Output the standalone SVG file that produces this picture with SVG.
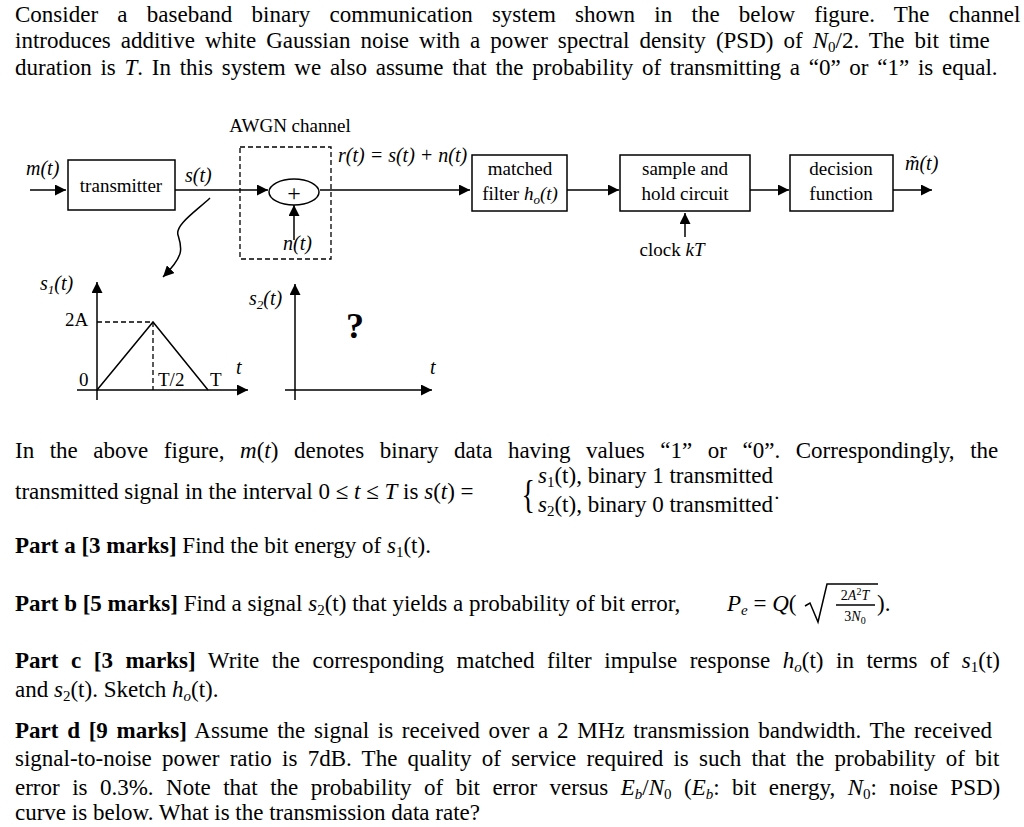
<svg xmlns="http://www.w3.org/2000/svg" width="1024" height="827" viewBox="0 0 1024 827">
<style>
text{font-family:"Liberation Serif","Times New Roman",serif;fill:#000}
.p{font-size:23px}
.d{font-size:19px}
.m{font-size:20px;font-style:italic}
.i{font-style:italic}
.b{font-weight:bold}
.box{fill:#fff;stroke:#000;stroke-width:1.5}
.ln{stroke:#000;stroke-width:1.5;fill:none}
.da{stroke:#000;stroke-width:1.3;fill:none;stroke-dasharray:5,3}
</style>
<defs>
<marker id="ar" viewBox="0 0 10 10" refX="10" refY="5" markerWidth="11" markerHeight="11" markerUnits="userSpaceOnUse" orient="auto"><path d="M0,0L10,5L0,10z" fill="#000"/></marker>
</defs>
<rect width="1024" height="827" fill="#fff"/>
<text class="p" x="15" y="22" word-spacing="13.5">Consider a baseband binary communication system shown in the below figure. The channel</text>
<text class="p" x="15" y="48" word-spacing="4.3">introduces additive white Gaussian noise with a power spectral density (PSD) of <tspan class="i">N</tspan><tspan font-size="15" dy="4">0</tspan><tspan dy="-4">/2. The bit time</tspan></text>
<text class="p" x="15" y="75" word-spacing="3">duration is <tspan class="i">T</tspan>. In this system we also assume that the probability of transmitting a “0” or “1” is equal.</text>

<g id="connectors">
<line class="ln" x1="30" y1="190" x2="66" y2="190" marker-end="url(#ar)"/>
<line class="ln" x1="175" y1="190" x2="268" y2="190" marker-end="url(#ar)"/>
<line class="ln" x1="320" y1="190" x2="470" y2="190" marker-end="url(#ar)"/>
<line class="ln" x1="294" y1="240" x2="294" y2="205" marker-end="url(#ar)"/>
<line class="ln" x1="567" y1="190" x2="619" y2="190" marker-end="url(#ar)"/>
<line class="ln" x1="750" y1="190" x2="789" y2="190" marker-end="url(#ar)"/>
<line class="ln" x1="893" y1="190" x2="932" y2="190" marker-end="url(#ar)"/>
<line class="ln" x1="685" y1="237" x2="685" y2="213" marker-end="url(#ar)"/>
<path class="ln" d="M210,198 C195,212 175,225 178,235 C182,248 185,255 163,277" marker-end="url(#ar)"/>
</g>

<g id="transmitter"><rect class="box" x="68" y="160" width="107" height="50"/><text class="d" x="121" y="192" text-anchor="middle">transmitter</text></g>
<text class="m" x="26" y="175">m(t)</text>
<text class="m" x="185" y="182">s(t)</text>
<g id="awgn">
<text class="d" x="290" y="132" text-anchor="middle">AWGN channel</text>
<rect class="da" x="240" y="147" width="91" height="112"/>
<ellipse cx="294" cy="192" rx="25" ry="13" fill="#fff" stroke="#000" stroke-width="1.5"/>
<text x="294" y="201" font-size="24" text-anchor="middle">+</text>
<text class="m" x="283" y="250">n(t)</text>
</g>
<text class="m" x="338" y="162">r(t) = s(t) + n(t)</text>
<g id="matched"><rect class="box" x="472" y="155" width="95" height="56"/><text class="d" x="520" y="175" text-anchor="middle">matched</text><text class="d" x="520" y="200" text-anchor="middle">filter <tspan class="i">h<tspan font-size="13" dy="4">o</tspan><tspan dy="-4">(t)</tspan></tspan></text></g>
<g id="sample"><rect class="box" x="620" y="155" width="130" height="56"/><text class="d" x="685" y="175" text-anchor="middle">sample and</text><text class="d" x="685" y="200" text-anchor="middle">hold circuit</text></g>
<text class="d" x="672" y="256" text-anchor="middle">clock <tspan class="i">kT</tspan></text>
<g id="decision"><rect class="box" x="790" y="155" width="103" height="56"/><text class="d" x="841" y="175" text-anchor="middle">decision</text><text class="d" x="841" y="200" text-anchor="middle">function</text></g>
<text class="m" x="905" y="170">m̃(t)</text>

<g id="plot1">
<line class="ln" x1="97" y1="400" x2="97" y2="282" marker-end="url(#ar)"/>
<line class="ln" x1="77" y1="390" x2="248" y2="390" marker-end="url(#ar)"/>
<polyline class="ln" points="97,390 153,322 208,390"/>
<line class="da" x1="97" y1="322" x2="153" y2="322"/>
<line class="da" x1="153" y1="322" x2="153" y2="390"/>
<text class="m" x="40" y="290">s<tspan font-size="13" dy="4">1</tspan><tspan dy="-4">(t)</tspan></text>
<text class="d" x="65" y="326">2A</text>
<text class="d" x="79" y="386">0</text>
<text class="d" x="158" y="386">T/2</text>
<text class="d" x="210" y="386">T</text>
<text class="m" x="236" y="374">t</text>
</g>
<g id="plot2">
<line class="ln" x1="295" y1="400" x2="295" y2="284" marker-end="url(#ar)"/>
<line class="ln" x1="285" y1="390" x2="432" y2="390" marker-end="url(#ar)"/>
<text class="m" x="249" y="305">s<tspan font-size="13" dy="4">2</tspan><tspan dy="-4">(t)</tspan></text>
<text x="355" y="338" font-size="36" font-weight="bold" text-anchor="middle">?</text>
<text class="m" x="430" y="374">t</text>
</g>

<text class="p" x="15" y="458" word-spacing="9.8">In the above figure, <tspan class="i">m</tspan>(<tspan class="i">t</tspan>) denotes binary data having values “1” or “0”. Correspondingly, the</text>
<text class="p" x="15" y="499">transmitted signal in the interval 0 ≤ <tspan class="i">t</tspan> ≤ <tspan class="i">T</tspan> is <tspan class="i">s</tspan>(<tspan class="i">t</tspan>) =</text>
<text x="745" y="508" font-size="40" transform="scale(0.7,1)">{</text>
<text class="p" x="538" y="483"><tspan class="i">s</tspan><tspan font-size="15" dy="4">1</tspan><tspan dy="-4">(t), binary 1 transmitted</tspan></text>
<text class="p" x="538" y="512"><tspan class="i">s</tspan><tspan font-size="15" dy="4">2</tspan><tspan dy="-4">(t), binary 0 transmitted˙</tspan></text>

<text class="p" x="15" y="553"><tspan class="b">Part a [3 marks]</tspan> Find the bit energy of <tspan class="i">s</tspan><tspan font-size="15" dy="4">1</tspan><tspan dy="-4">(t).</tspan></text>
<text class="p" x="15" y="611"><tspan class="b">Part b [5 marks]</tspan> Find a signal <tspan class="i">s</tspan><tspan font-size="15" dy="4">2</tspan><tspan dy="-4">(t) that yields a probability of bit error,</tspan></text>
<text class="p" x="727" y="611"><tspan class="i">P</tspan><tspan class="i" font-size="15" dy="4">e</tspan><tspan dy="-4"> = </tspan><tspan class="i">Q</tspan>(</text>
<path class="ln" stroke-width="1.2" d="M805,606 L810,603 L818,622 L827,584 L878,584"/>
<text x="855" y="600" font-size="14" text-anchor="middle">2<tspan class="i">A</tspan><tspan font-size="10" dy="-5">2</tspan><tspan class="i" dy="5">T</tspan></text>
<line class="ln" stroke-width="1" x1="836" y1="605" x2="875" y2="605"/>
<text x="855" y="621" font-size="14" text-anchor="middle">3<tspan class="i">N</tspan><tspan font-size="10" dy="3">0</tspan></text>
<text class="p" x="877" y="611">).</text>

<text class="p" x="15" y="668" word-spacing="6.8"><tspan class="b">Part c [3 marks]</tspan> Write the corresponding matched filter impulse response <tspan class="i">h</tspan><tspan class="i" font-size="15" dy="4">o</tspan><tspan dy="-4">(t) in terms of </tspan><tspan class="i">s</tspan><tspan font-size="15" dy="4">1</tspan><tspan dy="-4">(t)</tspan></text>
<text class="p" x="15" y="697">and <tspan class="i">s</tspan><tspan font-size="15" dy="4">2</tspan><tspan dy="-4">(t). Sketch </tspan><tspan class="i">h</tspan><tspan class="i" font-size="15" dy="4">o</tspan><tspan dy="-4">(t).</tspan></text>
<text class="p" x="15" y="738" word-spacing="3"><tspan class="b">Part d [9 marks]</tspan> Assume the signal is received over a 2 MHz transmission bandwidth. The received</text>
<text class="p" x="15" y="766" word-spacing="4.5">signal-to-noise power ratio is 7dB. The quality of service required is such that the probability of bit</text>
<text class="p" x="15" y="795" word-spacing="6.7">error is 0.3%. Note that the probability of bit error versus <tspan class="i">E</tspan><tspan class="i" font-size="15" dy="4">b</tspan><tspan dy="-4">/</tspan><tspan class="i">N</tspan><tspan font-size="15" dy="4">0</tspan><tspan dy="-4"> (</tspan><tspan class="i">E</tspan><tspan class="i" font-size="15" dy="4">b</tspan><tspan dy="-4">: bit energy, </tspan><tspan class="i">N</tspan><tspan font-size="15" dy="4">0</tspan><tspan dy="-4">: noise PSD)</tspan></text>
<text class="p" x="15" y="820">curve is below. What is the transmission data rate?</text>
</svg>
